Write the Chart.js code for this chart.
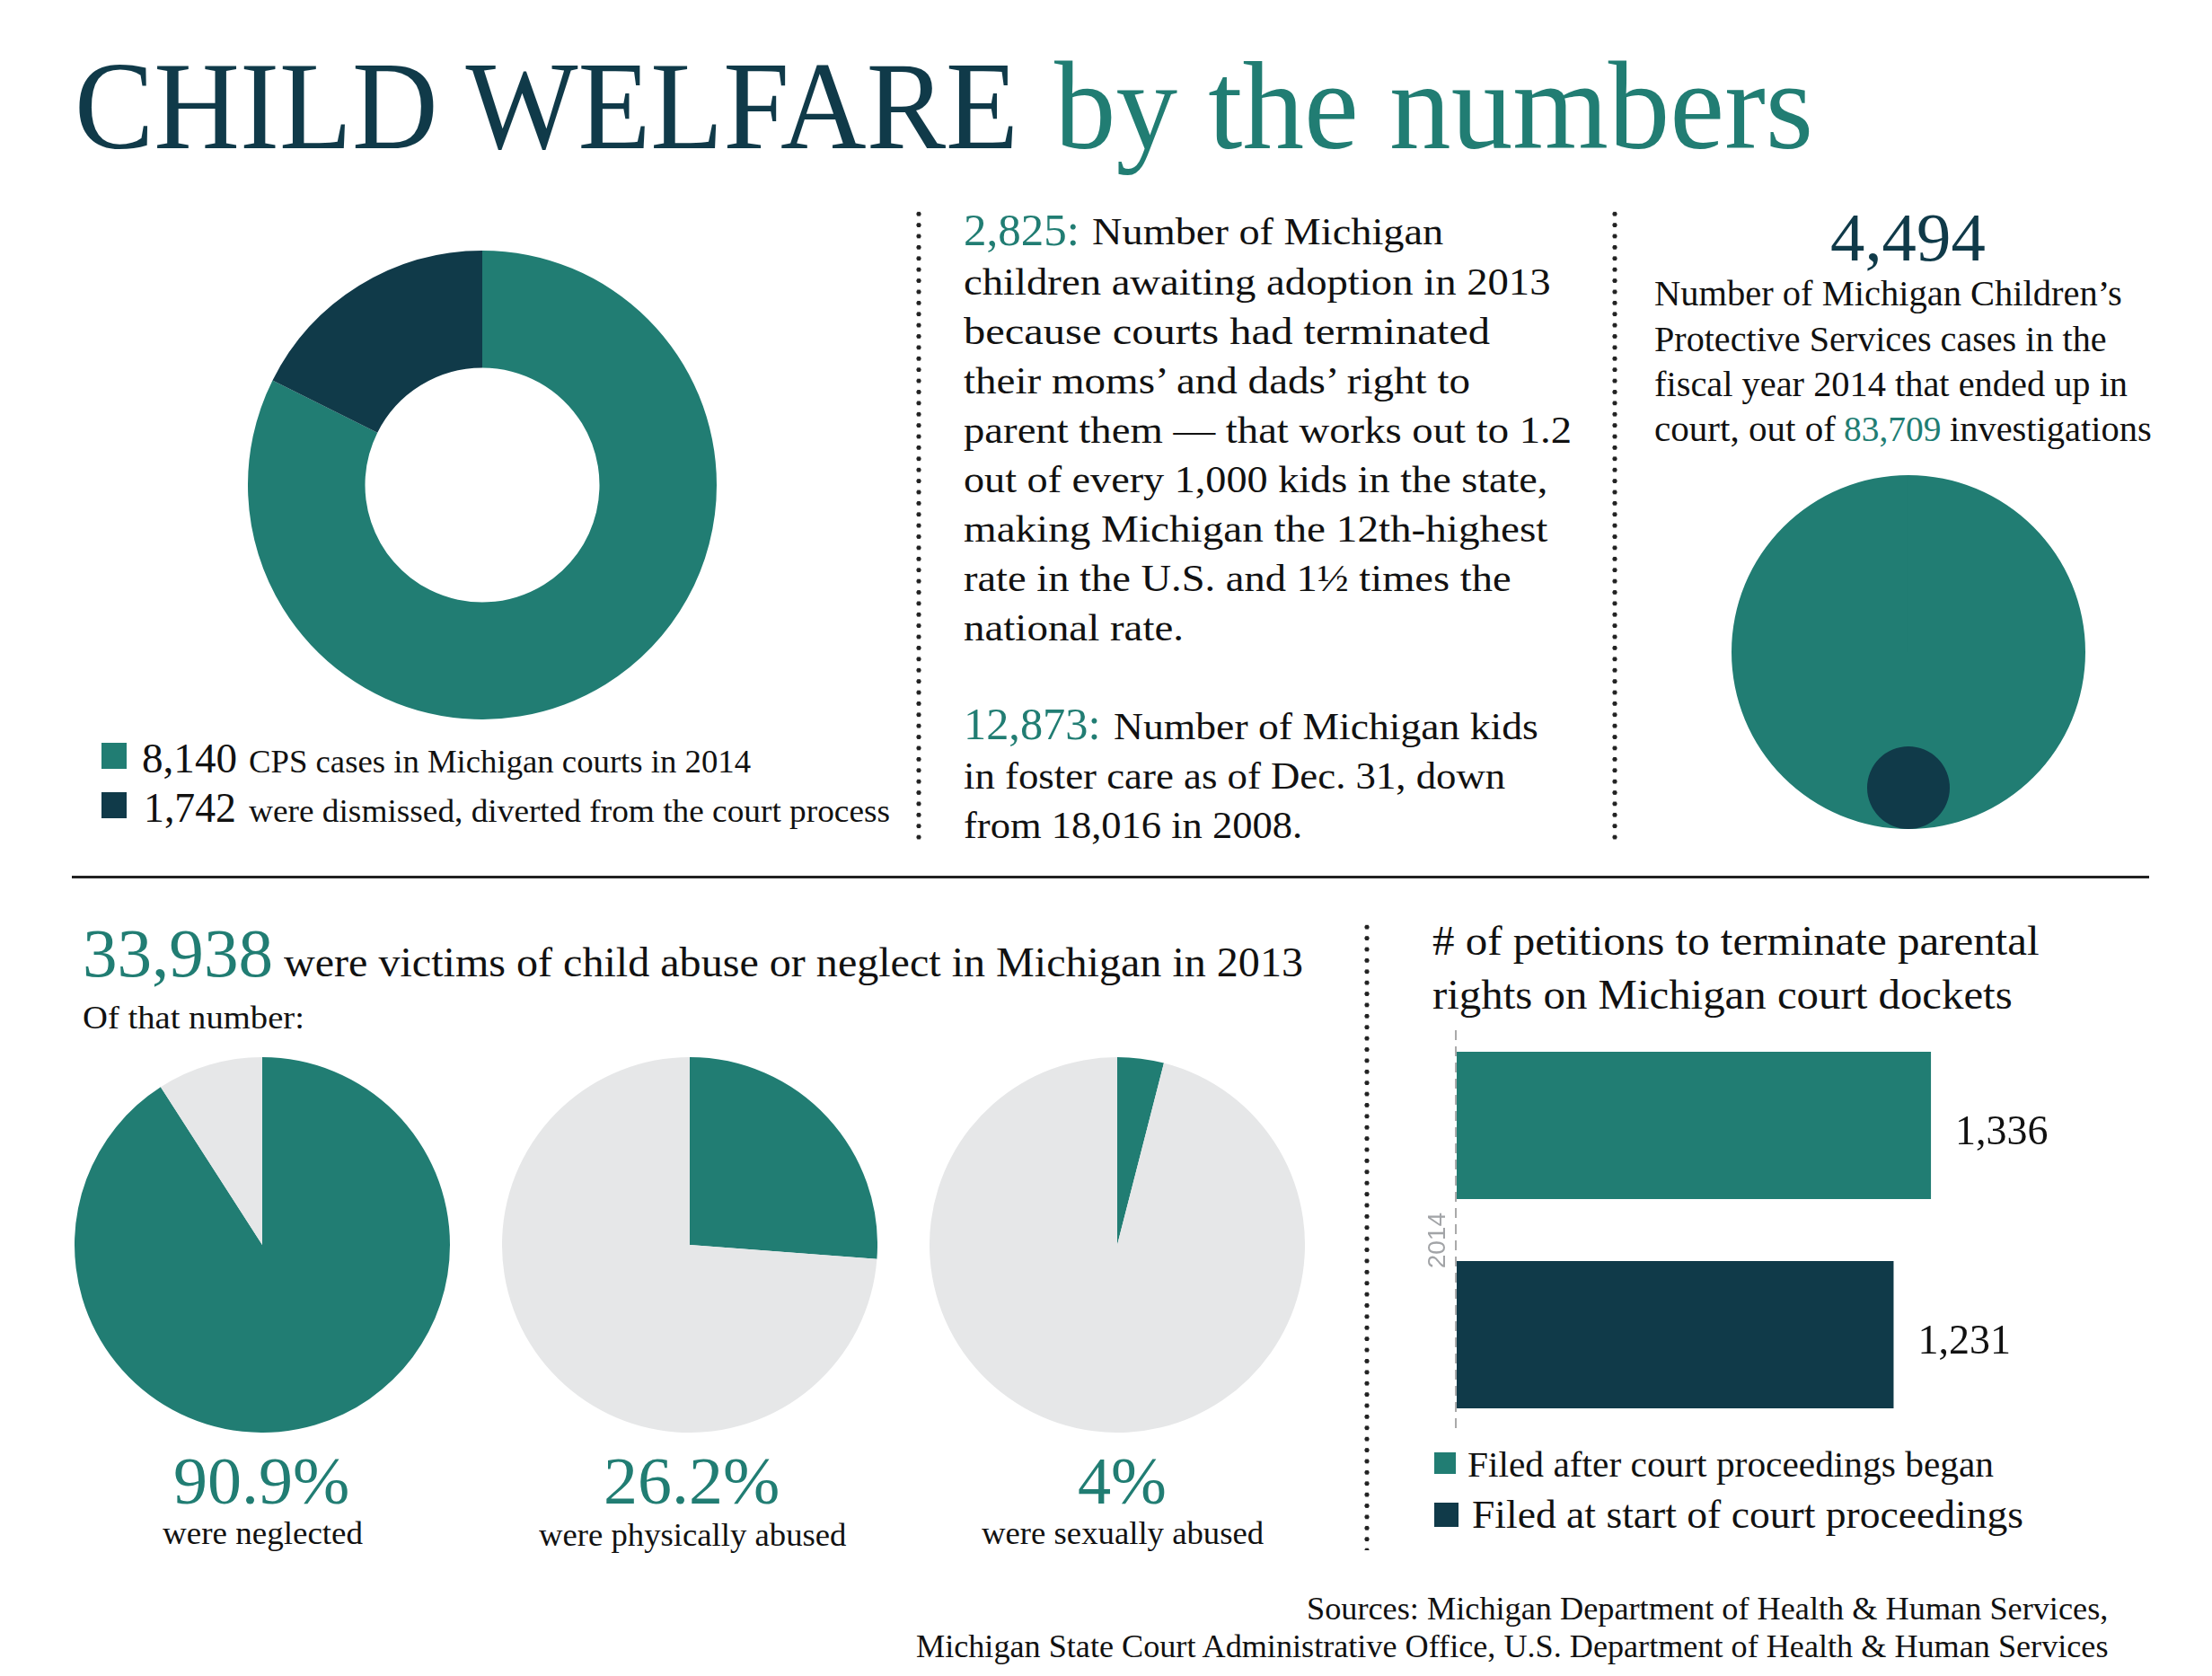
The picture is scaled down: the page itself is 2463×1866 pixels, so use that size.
<!DOCTYPE html>
<html><head><meta charset="utf-8">
<script src="https://cdn.jsdelivr.net/npm/chart.js@4"></script>
<style>
html,body{margin:0;padding:0;background:#fff}
#root{position:relative;width:2463px;height:1866px;overflow:hidden;background:#fff;font-family:"Liberation Serif",serif;color:#111}
#root canvas{position:absolute}
.t{position:absolute;white-space:pre;line-height:1.2;transform-origin:0 50%}
.sq{position:absolute}
.dots{position:absolute;width:8px;background:radial-gradient(circle,#222 2.3px,rgba(0,0,0,0) 2.9px) 0 0/8px 12.4px repeat-y}
</style></head><body><div id="root"></div>
<script>
const TEAL='#217D73', DARK='#103A49', GREY='#E6E7E8';
const courtCases=[8140,1742];
const investigations=[83709];
const courtEnded=[4494];
const neglected=[90.9,9.1];
const physical=[26.2,73.8];
const sexual=[4,96];
const barYears=['2014\u00a0\u00a0\u00a0'];
const filedAfter=[1336];
const filedStart=[1231];

const root=document.getElementById('root');
const S=1.571;
function text(s,x0,x1,base,size,color){ // coordinates in 1568-wide picture units
  const e=document.createElement('div');e.className='t';e.textContent=s;
  e.style.left=(x0*S)+'px';e.style.top=(base*S-0.9375*size)+'px';e.style.fontSize=size+'px';
  if(color)e.style.color=color;root.appendChild(e);
  const w=e.getBoundingClientRect().width;
  e.style.transform='scaleX('+((x1-x0)*S/w)+')';
}
function px(s,x0,x1,base,size,color){text(s,x0/S,x1/S,base/S,size,color)}
function sq(x0,y0,x1,y1,c){const e=document.createElement('div');e.className='sq';
  e.style.cssText+=`left:${x0}px;top:${y0}px;width:${x1-x0}px;height:${y1-y0}px;background:${c}`;root.appendChild(e)}
function dots(x,y0,y1){const e=document.createElement('div');e.className='dots';
  e.style.left=(x-4)+'px';e.style.top=y0+'px';e.style.height=(y1-y0)+'px';root.appendChild(e)}
function canvas(l,t,w,h){const c=document.createElement('canvas');c.width=w;c.height=h;
  c.style.cssText=`left:${l}px;top:${t}px;width:${w}px;height:${h}px`;root.appendChild(c);return c}

// title
text('CHILD WELFARE',53,722,105.5,139,DARK);
text('by the numbers',747,1285,105.5,139,TEAL);

// middle column
text('2,825:',683,765,173.5,50,TEAL);
text('Number of Michigan',774,1023,173.5,43);
[['children awaiting adoption in 2013',1099,209],
 ['because courts had terminated',1056,244],
 ['their moms\u2019 and dads\u2019 right to',1042,279],
 ['parent them \u2014 that works out to 1.2',1114,314],
 ['out of every 1,000 kids in the state,',1097,349],
 ['making Michigan the 12th-highest',1097,384],
 ['rate in the U.S. and 1\u00bd times the',1071,419],
 ['national rate.',839,454],
 ['in foster care as of Dec. 31, down',1067,559],
 ['from 18,016 in 2008.',923,594]].forEach(l=>text(l[0],683,l[1],l[2],43));
text('12,873:',683,780,524,50,TEAL);
text('Number of Michigan kids',789,1090,524,43);

// right column
text('4,494',1297,1407,185,77,DARK);
text('Number of Michigan Children\u2019s',1172.5,1504,217,40);
text('Protective Services cases in the',1172.5,1493,249,40);
text('fiscal year 2014 that ended up in',1172.5,1508,281,40);
text('court, out of',1172.5,1301,313,40);
text('83,709',1307,1376,313,40,TEAL);
text('investigations',1382,1525,313,40);

// top-left legend
sq(113,827,141,856,TEAL); sq(113,882,141,911,DARK);
px('8,140',158,264,860.5,46);
px('CPS cases in Michigan courts in 2014',277,836,860.5,36);
px('1,742',160,263,915.5,46);
px('were dismissed, diverted from the court process',277,991,915.5,36);

// divider and dotted rules
sq(80,975,2393,977.5,'#222');
dots(1023,232,936); dots(1798,232,936); dots(1522,1026,1726);

// lower headline
px('33,938',92,304,1087,76,TEAL);
px('were victims of child abuse or neglect in Michigan in 2013',316,1451,1087,46);
px('Of that number:',92,339,1146,36);

// pie captions
text('90.9%',123,248,1066,75,TEAL);
text('were neglected',115,257,1095,36);
text('26.2%',428,553,1066,75,TEAL);
text('were physically abused',382,600,1096,36);
text('4%',764,827,1066,75,TEAL);
text('were sexually abused',696,896,1095,36);

// bar title + legend
text('# of petitions to terminate parental',1015,1445,677,46);
text('rights on Michigan court dockets',1015,1426,715,46);
sq(1597,1617,1621,1641,TEAL); sq(1597,1673,1624,1700,DARK);
px('Filed after court proceedings began',1634,2220,1644,40);
px('Filed at start of court proceedings',1639,2253,1702,44);

// sources
text('Sources: Michigan Department of Health & Human Services,',926,1494,1148,35);
text('Michigan State Court Administrative Office, U.S. Department of Health & Human Services',649,1494,1175,35);

Chart.defaults.animation=false;
Chart.defaults.responsive=false;
Chart.defaults.devicePixelRatio=1;
const off={legend:{display:false},tooltip:{enabled:false}};
function round(type,cx,cy,r,values,colors,cutout){
  new Chart(canvas(cx-r,cy-r,2*r,2*r),{type,
    data:{labels:values.map(String),datasets:[{data:values,backgroundColor:colors,borderWidth:0}]},
    options:{plugins:off,layout:{padding:0},cutout,events:[]}});
}
round('doughnut',537,540,261,courtCases,[TEAL,DARK],'50%');
round('pie',292,1386,209,neglected,[TEAL,GREY],0);
round('pie',768,1386,209,physical,[TEAL,GREY],0);
round('pie',1244,1386,209,sexual,[TEAL,GREY],0);

// circles with area proportional to the counts; the small one sits on the big one's bottom edge
const bigR=197;
const smallR=Math.round(bigR*Math.sqrt(courtEnded[0]/investigations[0]));
round('pie',2125,726,bigR,investigations,[TEAL],0);
round('pie',2125,726+bigR-smallR,smallR,courtEnded,[DARK],0);

// bars
const barLabels={id:'barLabels',afterDatasetsDraw(c){
  const g=c.ctx;g.save();g.font='46px "Liberation Serif"';g.fillStyle='#111';g.textAlign='left';g.textBaseline='alphabetic';
  c.data.datasets.forEach((d,i)=>c.getDatasetMeta(i).data.forEach((b,j)=>{
    g.fillText(d.data[j].toLocaleString('en-US'),b.x+27,b.y+21);}));
  g.restore();}};
new Chart(canvas(1581,1147,760,445),{type:'bar',
  data:{labels:barYears,datasets:[
    {label:'Filed after court proceedings began',data:filedAfter,backgroundColor:TEAL,borderWidth:0},
    {label:'Filed at start of court proceedings',data:filedStart,backgroundColor:DARK,borderWidth:0}]},
  options:{indexAxis:'y',plugins:off,events:[],layout:{padding:{right:126}},
    datasets:{bar:{categoryPercentage:1.047,barPercentage:0.704}},
    scales:{
      x:{min:0,max:1500,afterFit(s){s.height=0},
        ticks:{display:false},
        border:{display:false,dash:[11,7]},
        grid:{drawTicks:false,lineWidth:2,color:c=>c.tick&&c.tick.value===0?'#aaa':'rgba(0,0,0,0)'}},
      y:{afterFit(s){s.width=40},
        grid:{display:false,drawTicks:false},
        border:{display:false},
        ticks:{minRotation:90,maxRotation:90,crossAlign:'center',padding:-23,color:'#a2a4a7',font:{family:'"Liberation Sans"',size:28}}}}},
  plugins:[barLabels]});
</script></body></html>
